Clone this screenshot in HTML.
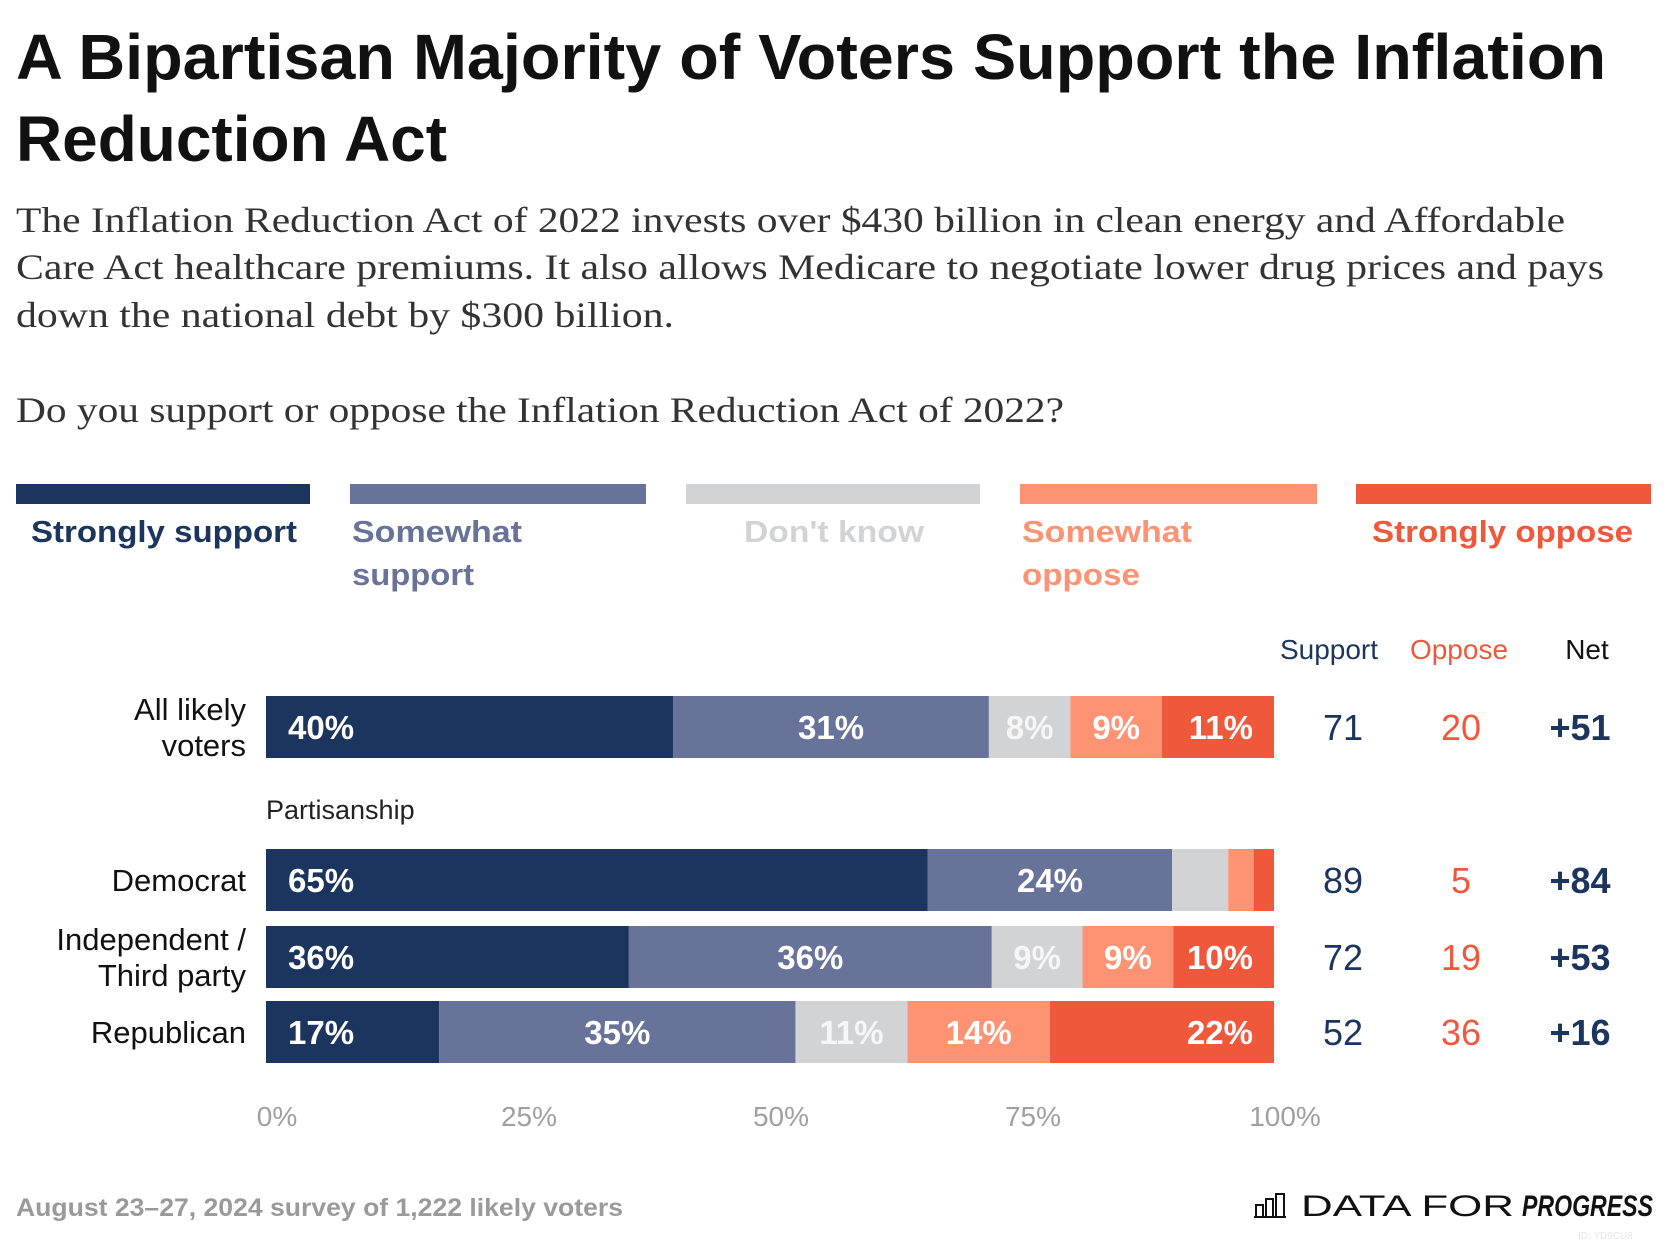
<!DOCTYPE html>
<html><head><meta charset="utf-8"><style>
html,body{margin:0;padding:0;background:#fff;}
svg{display:block;font-family:"Liberation Sans",sans-serif;}
</style></head><body>
<svg id="chart" width="1666" height="1242" viewBox="0 0 1666 1242" xmlns="http://www.w3.org/2000/svg">
<rect width="1666" height="1242" fill="#fff"/>
<g font-weight="bold" font-size="64" fill="#111">
<text x="16" y="79" textLength="1590" lengthAdjust="spacingAndGlyphs">A Bipartisan Majority of Voters Support the Inflation</text>
<text x="16" y="161" textLength="431" lengthAdjust="spacingAndGlyphs">Reduction Act</text>
</g>
<g font-family="Liberation Serif, serif" font-size="36" fill="#333">
<text x="16" y="232" textLength="1549" lengthAdjust="spacingAndGlyphs">The Inflation Reduction Act of 2022 invests over $430 billion in clean energy and Affordable</text>
<text x="16" y="279" textLength="1588" lengthAdjust="spacingAndGlyphs">Care Act healthcare premiums. It also allows Medicare to negotiate lower drug prices and pays</text>
<text x="16" y="327" textLength="658" lengthAdjust="spacingAndGlyphs">down the national debt by $300 billion.</text>
<text x="16" y="422" textLength="1048" lengthAdjust="spacingAndGlyphs">Do you support or oppose the Inflation Reduction Act of 2022?</text>
</g>
<g id="legend" font-size="31" font-weight="bold"></g>
<g font-size="28" text-anchor="middle">
<text x="1329" y="659" fill="#1c355e">Support</text>
<text x="1459" y="659" fill="#f0583c">Oppose</text>
<text x="1587" y="659" fill="#111">Net</text>
</g>
<text x="266" y="819" font-size="27" fill="#222">Partisanship</text>
<g id="bars"></g>
<g id="axis" font-size="28" fill="#a0a0a0" text-anchor="middle"></g>
<text x="16" y="1216" font-size="25" font-weight="bold" fill="#9a9a9a" textLength="607" lengthAdjust="spacingAndGlyphs">August 23–27, 2024 survey of 1,222 likely voters</text>
<g>
<g fill="none" stroke="#111" stroke-width="2">
<rect x="1256" y="1205" width="7" height="12"/><rect x="1266" y="1199" width="7" height="18"/><rect x="1276" y="1194" width="8" height="23"/>
<line x1="1254" y1="1217" x2="1286" y2="1217"/>
</g>
<text x="1301" y="1216" font-size="30" fill="#111" textLength="213" lengthAdjust="spacingAndGlyphs">DATA FOR</text>
<text x="1522" y="1216" font-size="30" font-weight="bold" font-style="italic" fill="#111" textLength="131" lengthAdjust="spacingAndGlyphs">PROGRESS</text>
<text x="1578" y="1239" font-size="10" fill="#e6e6e6">ID: YD9CU8</text>
</g>
</svg>
<script>
const categories = ["Strongly support","Somewhat support","Don't know","Somewhat oppose","Strongly oppose"];
const rowLabels = [["All likely","voters"],["Democrat"],["Independent /","Third party"],["Republican"]];
const stronglySupport = [40,65,36,17];
const somewhatSupport = [31,24,36,35];
const dontKnow = [8,5.5,9,11];
const somewhatOppose = [9,2.5,9,14];
const stronglyOppose = [11,2,10,22];
const showLabel = [[1,1,1,1,1],[1,1,0,0,0],[1,1,1,1,1],[1,1,1,1,1]];
const supportTotals = [71,89,72,52];
const opposeTotals = [20,5,19,36];
const netValues = ["+51","+84","+53","+16"];
const tickValues = [0,25,50,75,100];
const tickLabels = ["0%","25%","50%","75%","100%"];

const NS="http://www.w3.org/2000/svg";
const colors=["#1c355e","#68739a","#d2d3d5","#fe9374","#f0583c"];
const X0=266,X1=1274;
function xScale(v){return X0+(X1-X0)*v/100;}
const rowTops=[696,849,926,1001];
const barH=62;
function mk(tag,attrs,parent){const e=document.createElementNS(NS,tag);for(const k in attrs)e.setAttribute(k,attrs[k]);parent.appendChild(e);return e;}

const lg=document.getElementById('legend');
const legX=[[16,310],[350,646],[686,980],[1020,1317],[1356,1651]];
const legText=[[["Strongly support",31,266]],[["Somewhat",352,170],["support",352,122]],[["Don't know",744,180]],[["Somewhat",1022,170],["oppose",1022,118]],[["Strongly oppose",1372,261]]];
const legCol=["#1c355e","#68739a","#d2d3d5","#fe9374","#f0583c"];
categories.forEach((c,i)=>{
  const r=mk('rect',{x:legX[i][0],y:484,width:legX[i][1]-legX[i][0],height:20,fill:colors[i]},lg);
  
  
  legText[i].forEach((t,j)=>{
    const tx=mk('text',{x:t[1],y:542+j*43,fill:legCol[i],textLength:t[2],lengthAdjust:'spacingAndGlyphs'},lg);
    
    
    tx.textContent=t[0];
  });
});

const bg=document.getElementById('bars');
const series=[stronglySupport,somewhatSupport,dontKnow,somewhatOppose,stronglyOppose];
rowLabels.forEach((lab,r)=>{
  const top=rowTops[r];
  const vals=series.map(s=>s[r]);
  const tot=vals.reduce((a,b)=>a+b,0);
  let cum=0;
  const rl=mk('text',{x:246,"text-anchor":"end","font-size":31,fill:"#111"},bg);
  
  
  const cy=top+barH/2;
  lab.forEach((l,j)=>{
    const ts=mk('tspan',{x:246,y:lab.length===1?cy+11:cy+11+(j===0?-18:18)},rl);
    ts.textContent=l;
  });
  vals.forEach((v,i)=>{
    const a=xScale(cum/tot*100),b=xScale((cum+v)/tot*100);
    cum+=v;
    const rect=mk('rect',{x:a,y:top,width:b-a,height:barH,fill:colors[i]},bg);
    
    
    if(showLabel[r][i]){
      let tx,anchor;
      if(i===0){tx=a+22;anchor='start';}
      else if(i===4){tx=b-21;anchor='end';}
      else {tx=(a+b)/2;anchor='middle';}
      const t=mk('text',{x:tx,y:cy+12,"text-anchor":anchor,"font-size":33,"font-weight":"bold",fill:i===2?"#f6f6f6":"#fff"},bg);
      
      
      t.textContent=Math.round(v)+'%';
    }
  });
  const s=mk('text',{x:1343,y:cy+13,"text-anchor":"middle","font-size":36,fill:"#1c355e"},bg);
  
  
  s.textContent=supportTotals[r];
  const o=mk('text',{x:1461,y:cy+13,"text-anchor":"middle","font-size":36,fill:"#f0583c"},bg);
  
  
  o.textContent=opposeTotals[r];
  const n=mk('text',{x:1580,y:cy+13,"text-anchor":"middle","font-size":36,"font-weight":"bold",fill:"#1c355e"},bg);
  
  
  n.textContent=netValues[r];
});

const ax=document.getElementById('axis');
tickValues.forEach((v,i)=>{
  const t=mk('text',{x:xScale(v)+11,y:1126},ax);
  
  
  t.textContent=tickLabels[i];
});
</script>
</body></html>
